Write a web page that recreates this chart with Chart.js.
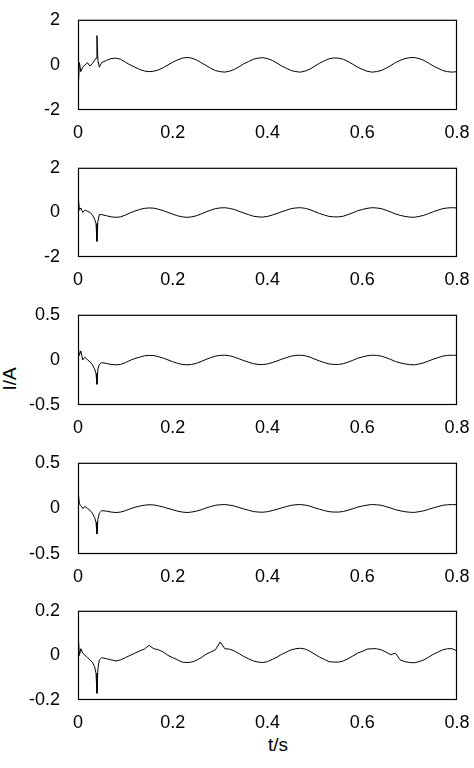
<!DOCTYPE html>
<html><head><meta charset="utf-8">
<script src="https://cdn.jsdelivr.net/npm/chart.js@4"></script>
<style>
body{margin:0;background:#fff;width:474px;height:768px;position:relative;overflow:hidden;font-family:"Liberation Sans",Arial,sans-serif}
canvas{position:absolute;left:0}
.lab{position:absolute;font-size:19px;color:#000}
</style></head><body>
<div class="lab" style="left:268px;top:734px">t/s</div>
<div class="lab" style="left:-2px;top:368px;transform:rotate(-90deg)">I/A</div>
<script>
const tEarly=[0,0.003,0.006,0.01,0.015,0.02,0.025,0.03,0.035,0.038,0.04,0.042,0.045];
const tMain=[0.05,0.06,0.07,0.08,0.09,0.10,0.11,0.12,0.13,0.14,0.15,0.16,0.17,0.18,0.19,0.20,0.21,0.22,0.23,0.24,0.25,0.26,0.27,0.28,0.29,0.30,0.31,0.32,0.33,0.34,0.35,0.36,0.37,0.38,0.39,0.40,0.41,0.42,0.43,0.44,0.45,0.46,0.47,0.48,0.49,0.50,0.51,0.52,0.53,0.54,0.55,0.56,0.57,0.58,0.59,0.60,0.61,0.62,0.63,0.64,0.65,0.66,0.67,0.68,0.69,0.70,0.71,0.72,0.73,0.74,0.75,0.76,0.77,0.78,0.79,0.80];
const times=tEarly.concat(tMain);
const i1=[-1.2,0.1,-0.3,-0.1,0.0,0.1,-0.05,0.05,0.2,0.3,1.3,0.2,-0.1,
0.1,0.2,0.28,0.3,0.25,0.12,0.0,-0.1,-0.2,-0.27,-0.3,-0.28,-0.22,-0.12,0.0,0.12,0.22,0.3,0.33,0.3,0.22,0.1,-0.02,-0.15,-0.25,-0.3,-0.32,-0.28,-0.2,-0.08,0.05,0.15,0.25,0.3,0.32,0.28,0.2,0.08,-0.05,-0.15,-0.25,-0.3,-0.32,-0.27,-0.18,-0.05,0.08,0.18,0.27,0.31,0.3,0.25,0.15,0.03,-0.1,-0.2,-0.28,-0.32,-0.3,-0.25,-0.15,-0.03,0.1,0.2,0.28,0.32,0.33,0.28,0.2,0.08,-0.05,-0.15,-0.25,-0.3,-0.32,-0.3];
const i2=[0.8,0.1,0.2,0.0,0.1,0.05,0.0,-0.1,-0.3,-0.5,-1.3,-0.4,-0.1,
-0.1,-0.15,-0.2,-0.22,-0.2,-0.12,-0.02,0.06,0.13,0.18,0.2,0.19,0.14,0.08,0.0,-0.08,-0.15,-0.2,-0.22,-0.2,-0.15,-0.07,0.02,0.1,0.17,0.2,0.21,0.18,0.13,0.05,-0.03,-0.1,-0.17,-0.2,-0.21,-0.18,-0.12,-0.05,0.03,0.1,0.17,0.2,0.21,0.18,0.12,0.03,-0.05,-0.12,-0.18,-0.2,-0.2,-0.17,-0.1,-0.02,0.07,0.13,0.18,0.21,0.2,0.17,0.1,0.02,-0.07,-0.13,-0.18,-0.21,-0.22,-0.18,-0.13,-0.05,0.03,0.1,0.17,0.2,0.21,0.2];
const i3=[0.15,0.05,0.1,0.0,0.03,0.0,-0.02,-0.05,-0.1,-0.15,-0.27,-0.1,-0.05,
-0.03,-0.04,-0.05,-0.055,-0.05,-0.03,-0.005,0.015,0.03,0.045,0.05,0.048,0.035,0.02,0.0,-0.02,-0.038,-0.05,-0.055,-0.05,-0.038,-0.018,0.005,0.025,0.042,0.05,0.052,0.045,0.032,0.012,-0.008,-0.025,-0.042,-0.05,-0.052,-0.045,-0.03,-0.012,0.008,0.025,0.042,0.05,0.052,0.045,0.03,0.008,-0.012,-0.03,-0.045,-0.05,-0.05,-0.042,-0.025,-0.005,0.018,0.032,0.045,0.052,0.05,0.042,0.025,0.005,-0.018,-0.032,-0.045,-0.052,-0.055,-0.045,-0.032,-0.012,0.008,0.025,0.042,0.05,0.052,0.05];
const i4=[0.2,0.05,0.03,0.0,0.02,0.0,-0.02,-0.05,-0.1,-0.15,-0.28,-0.12,-0.05,
-0.025,-0.03,-0.04,-0.045,-0.04,-0.025,-0.005,0.012,0.025,0.035,0.04,0.038,0.028,0.015,0.0,-0.015,-0.03,-0.04,-0.045,-0.04,-0.03,-0.015,0.004,0.02,0.034,0.04,0.042,0.036,0.026,0.01,-0.006,-0.02,-0.034,-0.04,-0.042,-0.036,-0.024,-0.01,0.006,0.02,0.034,0.04,0.042,0.036,0.024,0.006,-0.01,-0.024,-0.036,-0.04,-0.04,-0.034,-0.02,-0.004,0.014,0.026,0.036,0.042,0.04,0.034,0.02,0.004,-0.014,-0.026,-0.036,-0.042,-0.044,-0.036,-0.026,-0.01,0.006,0.02,0.034,0.04,0.042,0.04];
const i5=[0.1,0.0,0.03,0.01,0.0,-0.01,-0.02,-0.03,-0.05,-0.08,-0.17,-0.06,-0.02,
-0.01,-0.015,-0.02,-0.025,-0.02,-0.01,0.0,0.01,0.02,0.028,0.045,0.03,0.025,0.015,0.0,-0.01,-0.02,-0.03,-0.032,-0.03,-0.022,-0.01,0.005,0.015,0.025,0.06,0.03,0.028,0.02,0.008,-0.005,-0.015,-0.025,-0.03,-0.032,-0.028,-0.018,-0.008,0.005,0.015,0.025,0.03,0.032,0.028,0.018,0.005,-0.008,-0.018,-0.028,-0.03,-0.03,-0.025,-0.015,-0.003,0.01,0.018,0.028,0.03,0.03,0.025,0.015,0.003,0.01,-0.02,-0.028,-0.032,-0.033,-0.028,-0.02,-0.008,0.005,0.015,0.025,0.03,0.03,0.02];
const xTicks=[0,0.2,0.4,0.6,0.8];
const panels=[
 {data:i1,lim:2,top:11,bot:110},
 {data:i2,lim:2,top:159,bot:257},
 {data:i3,lim:0.5,top:306,bot:405},
 {data:i4,lim:0.5,top:454,bot:554},
 {data:i5,lim:0.2,top:602,bot:700}];
const boxPlug={id:'box',afterDraw(c){const a=c.chartArea,g=c.ctx;g.save();g.strokeStyle='#000';g.lineWidth=1.2;g.strokeRect(a.left+0.5,a.top+0.5,a.width-1,a.height-1);g.restore();}};
panels.forEach(p=>{
 const cv=document.createElement('canvas');
 const ct=p.top-12, h=(p.bot-p.top)+12+36;
 cv.style.top=ct+'px';cv.style.width='474px';cv.style.height=h+'px';
 cv.width=474;cv.height=h;document.body.appendChild(cv);
 new Chart(cv,{type:'line',
  data:{datasets:[{data:times.map((t,i)=>({x:t,y:p.data[i]})),borderColor:'#000',borderWidth:1,pointRadius:0,tension:0}]},
  options:{responsive:false,animation:false,plugins:{legend:{display:false},tooltip:{enabled:false}},
   layout:{padding:{top:12,right:17,left:0,bottom:0}},
   scales:{
    x:{type:'linear',min:0,max:0.8,afterBuildTicks(s){s.ticks=xTicks.map(v=>({value:v}));},
       grid:{display:false},border:{display:false},
       ticks:{color:'#000',font:{family:'Liberation Sans',size:18},padding:4,maxRotation:0,callback:v=>String(v)},
       afterFit(s){s.height=36;}},
    y:{min:-p.lim,max:p.lim,afterBuildTicks(s){s.ticks=[-p.lim,0,p.lim].map(v=>({value:v}));},
       grid:{display:false},border:{display:false},
       ticks:{color:'#000',font:{family:'Liberation Sans',size:18},padding:10,callback:v=>String(v)},
       afterFit(s){s.width=78;}}}},
  plugins:[boxPlug]});
});
</script></body></html>
